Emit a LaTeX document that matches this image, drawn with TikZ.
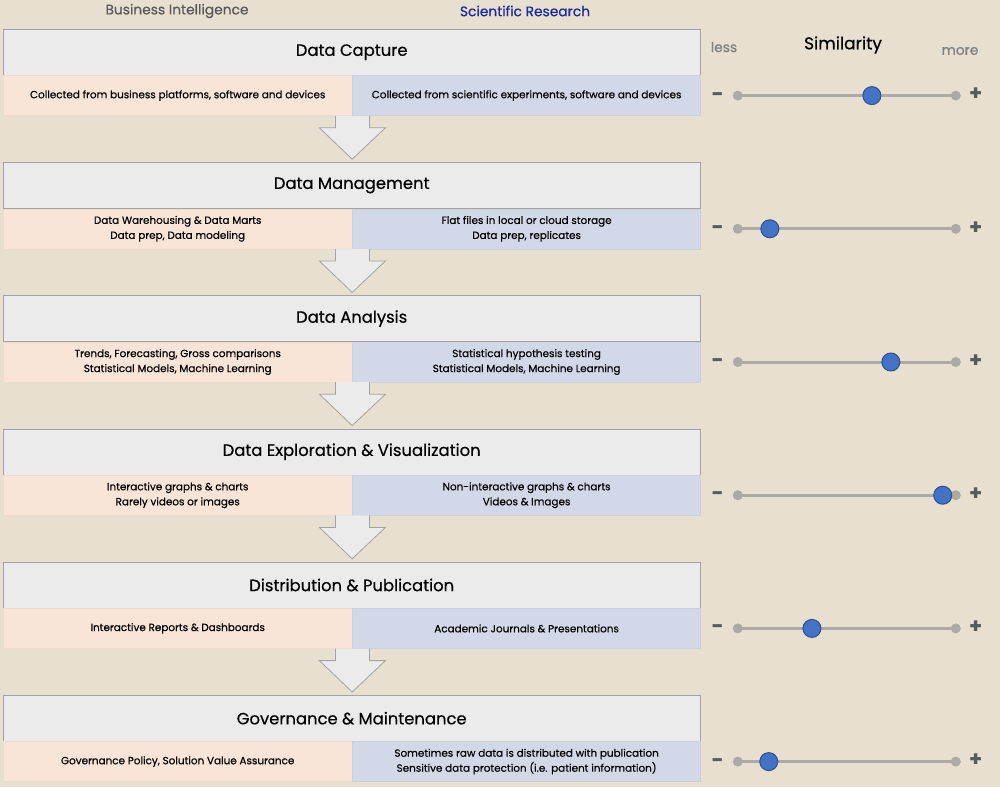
\documentclass[tikz,border=0pt]{standalone}
\usepackage{fontspec}
\setmainfont{Poppins}[UprightFeatures={FakeBold=0.5}]
\usetikzlibrary{calc}
\definecolor{paper}{HTML}{E7DFCF}
\definecolor{titlefill}{HTML}{EBEBEB}
\definecolor{boxline}{HTML}{A3A3A3}
\definecolor{bizfill}{HTML}{F9E5D7}
\definecolor{scifill}{HTML}{D3D8E9}
\definecolor{bizink}{HTML}{5A5A5A}
\definecolor{sciink}{HTML}{1F2A9C}
\definecolor{trackgray}{HTML}{ADA9A5}
\definecolor{knobblue}{HTML}{4472C4}
\definecolor{knobline}{HTML}{2F4F8F}
\newcommand{\h}{133.2}
% block arrow from the bottom of one stage to the top of the next
\newcommand{\flow}[2]{%
  \path[flow] ($(#1.south east)+(-17,0)$) -- ++(0,12) -- ++(-16,0)
    -- ($(#2.north)+(0.5,-3)$) -- ($(#1.south east)+(33,12)$) -- ++(-16,0) -- ++(0,-12);}
% similarity slider right of a row
\newcommand{\similarity}[2]{%
  \draw[track] ($(#1.east)+(37,0)$) coordinate (#1-lo) -- ($(#1.east)+(255,0)$) coordinate (#1-hi);
  \node[stop] (#1-lostop) at (#1-lo) {};
  \node[stop] (#1-histop) at (#1-hi) {};
  \node[knob] (#1-knob) at ($(#1-lo)!#2!(#1-hi)$) {};
  \node[sign] (#1-minus) at ($(#1-lo)+(-20,1)$) {-};
  \node[sign] (#1-plus) at ($(#1-hi)+(20,-1)$) {+};}

\begin{document}
\begin{tikzpicture}[x=1pt,y=-1pt,
  stage/.style={draw=boxline, fill=titlefill, anchor=north west, minimum width=697pt, minimum height=46pt, inner sep=0pt, font=\fontsize{16.4}{19}\selectfont},
  cell/.style={anchor=north west, minimum height=40pt, inner sep=0pt, align=center, font=\fontsize{10.4}{15}\selectfont},
  bizcell/.style={cell, fill=bizfill, draw=bizfill!90!gray, minimum width=349pt},
  scicell/.style={cell, fill=scifill, draw=scifill!90!gray, minimum width=348pt},
  flow/.style={fill=titlefill, draw=boxline, line width=0.8pt},
  track/.style={draw=trackgray, line width=3pt},
  stop/.style={circle, fill=trackgray, minimum size=10pt, inner sep=0pt},
  knob/.style={circle, fill=knobblue, draw=knobline, line width=1pt, minimum size=18pt, inner sep=0pt},
  sign/.style={text=bizink, font=\fontsize{21}{21}\selectfont\bfseries},
  head/.style={font=\fontsize{13.8}{15}\selectfont}]
  \useasboundingbox[fill=paper] (0,0) rectangle (1000,787);

  % column and scale headings
  \node[head, text=bizink] (bi) at (177,11) {Business Intelligence};
  \node[head, text=sciink] (sr) at (525,11) {Scientific Research};
  \node[head, text=gray] (less) at (724,47) {less};
  \node[font=\fontsize{17}{19}\selectfont] (simil) at (843,45) {Similarity};
  \node[head, text=gray] (more) at (960,51) {more};

  % stages
  \node[stage] (capT) at (3,29+0*\h) {Data Capture};
  \node[bizcell] (capL) at (capT.south west) {Collected from business platforms, software and devices};
  \node[scicell] (capR) at (capL.north east) {Collected from scientific experiments, software and devices};

  \node[stage] (manT) at (3,29+1*\h) {Data Management};
  \node[bizcell] (manL) at (manT.south west) {Data Warehousing \& Data Marts\\Data prep, Data modeling};
  \node[scicell] (manR) at (manL.north east) {Flat files in local or cloud storage\\Data prep, replicates};

  \node[stage] (anaT) at (3,29+2*\h) {Data Analysis};
  \node[bizcell] (anaL) at (anaT.south west) {Trends, Forecasting, Gross comparisons\\Statistical Models, Machine Learning};
  \node[scicell] (anaR) at (anaL.north east) {Statistical hypothesis testing\\Statistical Models, Machine Learning};

  \node[stage] (visT) at (3,29+3*\h) {Data Exploration \& Visualization};
  \node[bizcell] (visL) at (visT.south west) {Interactive graphs \& charts\\Rarely videos or images};
  \node[scicell] (visR) at (visL.north east) {Non-interactive graphs \& charts\\Videos \& Images};

  \node[stage] (pubT) at (3,29+4*\h) {Distribution \& Publication};
  \node[bizcell] (pubL) at (pubT.south west) {Interactive Reports \& Dashboards};
  \node[scicell] (pubR) at (pubL.north east) {Academic Journals \& Presentations};

  \node[stage] (govT) at (3,29+5*\h) {Governance \& Maintenance};
  \node[bizcell] (govL) at (govT.south west) {Governance Policy, Solution Value Assurance};
  \node[scicell] (govR) at (govL.north east) {Sometimes raw data is distributed with publication\\Sensitive data protection (i.e. patient information)};

  % arrows between stages
  \flow{capL}{manT}
  \flow{manL}{anaT}
  \flow{anaL}{visT}
  \flow{visL}{pubT}
  \flow{pubL}{govT}

  % similarity sliders
  \similarity{capR}{0.615}
  \similarity{manR}{0.147}
  \similarity{anaR}{0.702}
  \similarity{visR}{0.94}
  \similarity{pubR}{0.34}
  \similarity{govR}{0.142}
\end{tikzpicture}
\end{document}
